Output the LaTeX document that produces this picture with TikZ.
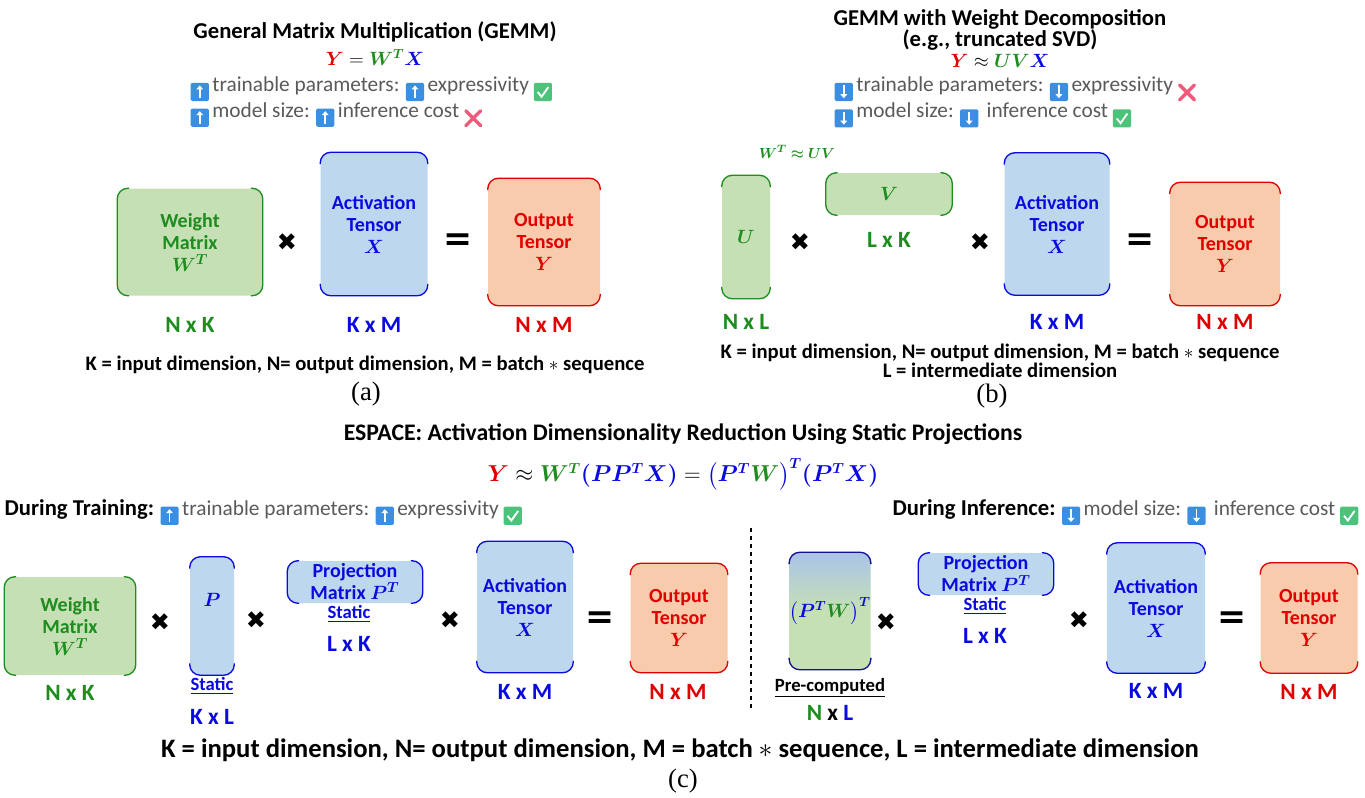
\documentclass[tikz,border=0pt]{standalone}
\usepackage{amsmath,bm}
\usepackage{fontspec}
\setmainfont{Carlito}
\newfontfamily\dv{DejaVu Sans}
\newfontfamily\tms{Liberation Serif}
\usetikzlibrary{arrows.meta}
\definecolor{gfill}{HTML}{C5E0B4}\definecolor{gline}{HTML}{2A8A2A}\definecolor{gtxt}{HTML}{1E8C1E}
\definecolor{bfill}{HTML}{BDD7EE}\definecolor{bline}{HTML}{1A1AD0}\definecolor{btxt}{HTML}{0A0AE0}
\definecolor{ofill}{HTML}{F8CBAD}\definecolor{oline}{HTML}{E01010}\definecolor{otxt}{HTML}{E00000}
\definecolor{iconb}{HTML}{3C8FE0}\definecolor{iconc}{HTML}{4CC27A}\definecolor{iconx}{HTML}{EE5A7A}
\definecolor{gtext}{HTML}{5A5A5A}
\newcommand\upi{\tikz[baseline=-0.3em]{\fill[iconb,rounded corners=1pt] (0,-0.75em) rectangle (0.85em,0.1em); \draw[white,line width=1.3pt,-{Triangle[length=3pt,width=5pt]}] (0.425em,-0.62em)--(0.425em,-0.02em);}}
\newcommand\dni{\tikz[baseline=-0.3em]{\fill[iconb,rounded corners=1pt] (0,-0.75em) rectangle (0.85em,0.1em); \draw[white,line width=1.3pt,-{Triangle[length=3pt,width=5pt]}] (0.425em,-0.02em)--(0.425em,-0.62em);}}
\newcommand\chk{\tikz[baseline=-0.3em]{\fill[iconc,rounded corners=1pt] (0,-0.75em) rectangle (0.85em,0.1em); \draw[white,line width=1.4pt] (0.18em,-0.33em)--(0.36em,-0.55em)--(0.68em,-0.1em);}}
\newcommand\crs{\tikz[baseline=-0.3em]{\draw[iconx,line width=2.6pt,line cap=round] (0.1em,-0.7em)--(0.8em,0em) (0.1em,0em)--(0.8em,-0.7em);}}
\newcommand\PTW{\color{btxt}\bigl(\bm{P^T}\color{gtxt}\bm{W}\color{btxt}\bigr)^{\bm{T}}}
% name cx cy w h fill line v/h text
\newcommand\Mat[9]{%
\node[fill=#6,rounded corners=8pt,minimum width={#4*0.75pt},minimum height={#5*0.75pt},inner sep=0pt,align=center,text=#7,font=\bfseries\fontsize{15}{16.5}\selectfont] (#1) at (#2,#3) {#9};
\ifx v#8
\draw[#7,line width=1pt,rounded corners=8pt] ([yshift=-9pt]#1.north west)--(#1.north west)--(#1.north east)--([yshift=-9pt]#1.north east);
\draw[#7,line width=1pt,rounded corners=8pt] ([yshift=9pt]#1.south west)--(#1.south west)--(#1.south east)--([yshift=9pt]#1.south east);
\else
\draw[#7,line width=1pt,rounded corners=8pt] ([xshift=9pt]#1.north west)--(#1.north west)--(#1.south west)--([xshift=9pt]#1.south west);
\draw[#7,line width=1pt,rounded corners=8pt] ([xshift=-9pt]#1.north east)--(#1.north east)--(#1.south east)--([xshift=-9pt]#1.south east);
\fi}
\tikzset{
 ttl/.style={font=\bfseries\fontsize{17}{15.5}\selectfont},
 eq/.style={font=\fontsize{14}{16}\selectfont},
 hd/.style={font=\fontsize{16}{16}\selectfont,text=gtext,anchor=west,align=left},
 dim/.style={font=\bfseries\fontsize{17.5}{18}\selectfont},
 sub/.style={font=\bfseries\fontsize{14}{15}\selectfont},
 capt/.style={font=\bfseries\fontsize{15.5}{14}\selectfont},
 lab/.style={font=\tms\fontsize{20}{22}\selectfont},
 op/.style={font=\dv\bfseries\fontsize{18}{18}\selectfont},
 eqs/.style={font=\dv\bfseries\fontsize{26}{26}\selectfont},
}
\newcommand\G[1]{\textcolor{gtxt}{#1}}\newcommand\B[1]{\textcolor{btxt}{#1}}
\begin{document}
\begin{tikzpicture}[x=0.75pt,y=-0.75pt]
\useasboundingbox[fill=white] (0,0) rectangle (1365,797);
% ---------- (a)
\node[ttl] (ta) at (375,32) {General Matrix Multiplication (GEMM)};
\node[eq] (ea) at (375,57) {$\color{otxt}\bm{Y}\color{black}=\color{gtxt}\bm{W^T}\color{btxt}\bm{X}$};
\node[hd] (ha) at (186,102) {\upi\,trainable parameters: \upi\,expressivity \chk\\\upi\,model size: \upi\,inference cost \crs};
\Mat{wa}{190}{242}{145}{107}{gfill}{gtxt}{h}{Weight\\Matrix\\$\bm{W^T}$}
\node[op] (xa1) at (287,242) {✖};
\Mat{aa}{374}{224}{107}{143}{bfill}{btxt}{v}{Activation\\Tensor\\$\bm{X}$}
\node[eqs] (qa) at (458,242) {=};
\Mat{oa}{544}{242}{112}{127}{ofill}{otxt}{v}{Output\\Tensor\\$\bm{Y}$}
\node[dim,text=gtxt] (da1) at (190,325) {N x K};
\node[dim,text=btxt] (da2) at (374,325) {K x M};
\node[dim,text=otxt] (da3) at (544,325) {N x M};
\node[capt] (ca) at (365,365) {K = input dimension, N= output dimension, M = batch $*$ sequence};
\node[lab] (la) at (366,394) {(a)};
% ---------- (b)
\node[ttl,align=center] (tb) at (1000,30) {GEMM with Weight Decomposition\\(e.g., truncated SVD)};
\node[eq] (eb) at (1000,61) {$\color{otxt}\bm{Y}\color{black}\approx\color{gtxt}\bm{UV}\color{btxt}\bm{X}$};
\node[hd] (hb) at (830,102) {\dni\,trainable parameters: \dni\,expressivity \crs\\\dni\,model size: \dni\, inference cost \chk};
\node[eq,text=gtxt,font=\fontsize{11}{13}\selectfont] (wuv) at (797,152) {$\bm{W^T\approx UV}$};
\Mat{ub}{746}{237}{48}{123}{gfill}{gtxt}{v}{$\bm{U}$}
\node[op] (xb1) at (800,242) {✖};
\Mat{vb}{889}{194}{126}{42}{gfill}{gtxt}{h}{$\bm{V}$}
\node[dim,text=gtxt] (db0) at (889,240) {L x K};
\node[op] (xb2) at (980,242) {✖};
\Mat{ab}{1057}{224}{105}{142}{bfill}{btxt}{v}{Activation\\Tensor\\$\bm{X}$}
\node[eqs] (qb) at (1140,242) {=};
\Mat{ob}{1225}{244}{110}{123}{ofill}{otxt}{v}{Output\\Tensor\\$\bm{Y}$}
\node[dim,text=gtxt] (db1) at (746,322) {N x L};
\node[dim,text=btxt] (db2) at (1057,322) {K x M};
\node[dim,text=otxt] (db3) at (1225,322) {N x M};
\node[capt,align=center] (cb) at (1000,361) {K = input dimension, N= output dimension, M = batch $*$ sequence\\L = intermediate dimension};
\node[lab] (lb) at (992,396) {(b)};
% ---------- (c)
\node[ttl,font=\bfseries\fontsize{17.8}{20}\selectfont] (tc) at (683,434) {ESPACE: Activation Dimensionality Reduction Using Static Projections};
\node[eq,font=\fontsize{16}{18}\selectfont] (ec) at (683,474) {$\color{otxt}\bm{Y}\color{black}\approx\color{gtxt}\bm{W^T}\color{btxt}\bm{(PP^TX)}\color{black}=\PTW\bm{(P^TX)}$};
\node[hd] (hc1) at (0,512) {\textcolor{black}{\bfseries\fontsize{17}{16}\selectfont During Training:} \upi\,trainable parameters: \upi\,expressivity \chk};
\node[hd,anchor=east] (hc2) at (1363,512) {\textcolor{black}{\bfseries\fontsize{17}{16}\selectfont During Inference:} \dni\,model size: \dni\, inference cost \chk};
\coordinate (d1) at (751,528); \coordinate (d2) at (751,710);
\draw[dashed,line width=0.9pt] (d1)--(d2);
\Mat{wc}{70}{626}{131}{98}{gfill}{gtxt}{h}{Weight\\Matrix\\$\bm{W^T}$}
\node[op] (xc1) at (160,622) {✖};
\Mat{pc}{212}{616}{44}{118}{bfill}{btxt}{v}{$\bm{P}$\\[8pt]}
\node[sub,text=btxt] (sc1) at (212,686) {\underline{Static}};
\node[dim,text=btxt] (dc1) at (212,717) {K x L};
\node[op] (xc2) at (256,620) {✖};
\Mat{prc}{355}{582}{135}{42}{bfill}{btxt}{h}{Projection\\Matrix $\bm{P^T}$}
\node[sub,text=btxt] (sc2) at (349,614) {\underline{Static}};
\node[dim,text=btxt] (dc2) at (349,644) {L x K};
\node[op] (xc3) at (450,620) {✖};
\Mat{ac}{525}{607}{96}{131}{bfill}{btxt}{v}{Activation\\Tensor\\$\bm{X}$}
\node[eqs] (qc) at (600,620) {=};
\Mat{oc}{679}{618}{97}{109}{ofill}{otxt}{v}{Output\\Tensor\\$\bm{Y}$}
\node[dim,text=gtxt] (dc0) at (70,693) {N x K};
\node[dim,text=btxt] (dc3) at (525,692) {K x M};
\node[dim,text=otxt] (dc4) at (678,692) {N x M};
% inference
\node[top color={rgb,255:red,170;green,195;blue,232},bottom color=gfill,middle color=gfill,rounded corners=8pt,minimum width={64*0.75pt},minimum height={117*0.75pt},inner sep=0pt,font=\fontsize{14}{16}\selectfont] (pw) at (830,611) {$\PTW$};
\draw[bline!70!black,line width=1pt,rounded corners=8pt] ([yshift=-9pt]pw.north west)--(pw.north west)--(pw.north east)--([yshift=-9pt]pw.north east);
\draw[bline!70!black,line width=1pt,rounded corners=8pt] ([yshift=9pt]pw.south west)--(pw.south west)--(pw.south east)--([yshift=9pt]pw.south east);
\node[sub] (sc3) at (830,688) {\underline{Pre-computed}};
\node[dim] (dc5) at (830,713) {\G{N} x \B{L}};
\node[op] (xc4) at (886,622) {✖};
\Mat{prc2}{986}{574}{135}{42}{bfill}{btxt}{h}{Projection\\Matrix $\bm{P^T}$}
\node[sub,text=btxt] (sc4) at (985,606) {\underline{Static}};
\node[dim,text=btxt] (dc6) at (985,636) {L x K};
\node[op] (xc5) at (1079,620) {✖};
\Mat{ac2}{1156}{608}{98}{130}{bfill}{btxt}{v}{Activation\\Tensor\\$\bm{X}$}
\node[eqs] (qc2) at (1232,620) {=};
\Mat{oc2}{1309}{618}{97}{110}{ofill}{otxt}{v}{Output\\Tensor\\$\bm{Y}$}
\node[dim,text=btxt] (dc7) at (1156,691) {K x M};
\node[dim,text=otxt] (dc8) at (1309,692) {N x M};
\node[capt,font=\bfseries\fontsize{20}{22}\selectfont] (cc) at (680,750) {K = input dimension, N= output dimension, M = batch $*$ sequence, L = intermediate dimension};
\node[lab] (lc) at (683,781) {(c)};
\end{tikzpicture}
\end{document}
